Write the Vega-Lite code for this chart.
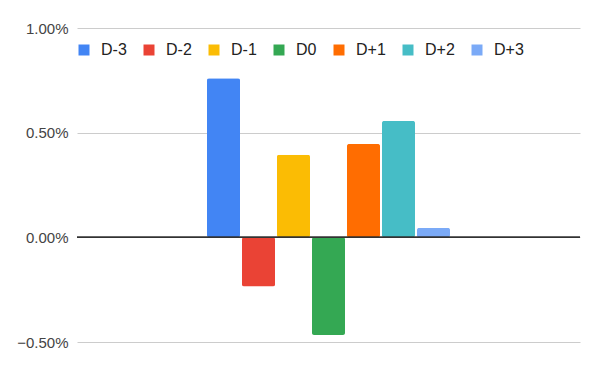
{
  "$schema": "https://vega.github.io/schema/vega-lite/v6.json",
  "width": 503,
  "height": 314,
  "autosize": {"type": "none"},
  "padding": {"left": 77, "top": 28, "right": 20, "bottom": 29},
  "config": {"view": {"stroke": null}, "font": "Liberation Sans"},
  "data": {
    "values": [
      {"group": "", "series": "D-3", "value": 0.0076},
      {"group": "", "series": "D-2", "value": -0.00235},
      {"group": "", "series": "D-1", "value": 0.00394},
      {"group": "", "series": "D0", "value": -0.00466},
      {"group": "", "series": "D+1", "value": 0.00446},
      {"group": "", "series": "D+2", "value": 0.00556},
      {"group": "", "series": "D+3", "value": 0.00045}
    ]
  },
  "layer": [
    {
      "mark": {"type": "bar", "cornerRadius": 2},
      "encoding": {
        "x": {
          "field": "group",
          "type": "nominal",
          "scale": {"paddingInner": 0, "paddingOuter": 0.535},
          "axis": null
        },
        "xOffset": {
          "field": "series",
          "type": "nominal",
          "sort": null,
          "scale": {"paddingInner": 0.057, "paddingOuter": 0}
        },
        "y": {
          "field": "value",
          "type": "quantitative",
          "scale": {"domain": [-0.005, 0.01], "nice": false, "zero": false},
          "axis": {
            "values": [-0.005, 0, 0.005, 0.01],
            "format": ".2%",
            "domain": false,
            "ticks": false,
            "labelPadding": 9,
            "labelFontSize": 15,
            "labelColor": "#444444",
            "gridColor": "#cccccc",
            "title": null
          }
        },
        "color": {
          "field": "series",
          "type": "nominal",
          "sort": null,
          "scale": {
            "domain": ["D-3", "D-2", "D-1", "D0", "D+1", "D+2", "D+3"],
            "range": ["#4285F4", "#EA4335", "#FBBC04", "#34A853", "#FF6D01", "#46BDC6", "#7BAAF7"]
          },
          "legend": {
            "orient": "none",
            "direction": "horizontal",
            "legendX": -1,
            "legendY": 14,
            "title": null,
            "symbolType": "square",
            "symbolSize": 121,
            "symbolStrokeWidth": 0,
            "labelFontSize": 16,
            "labelColor": "#222222",
            "labelOffset": 9,
            "columnPadding": 14,
            "padding": 0
          }
        }
      }
    },
    {
      "mark": {"type": "rule", "color": "#333333", "strokeWidth": 1},
      "encoding": {"y": {"datum": 0}}
    }
  ]
}
